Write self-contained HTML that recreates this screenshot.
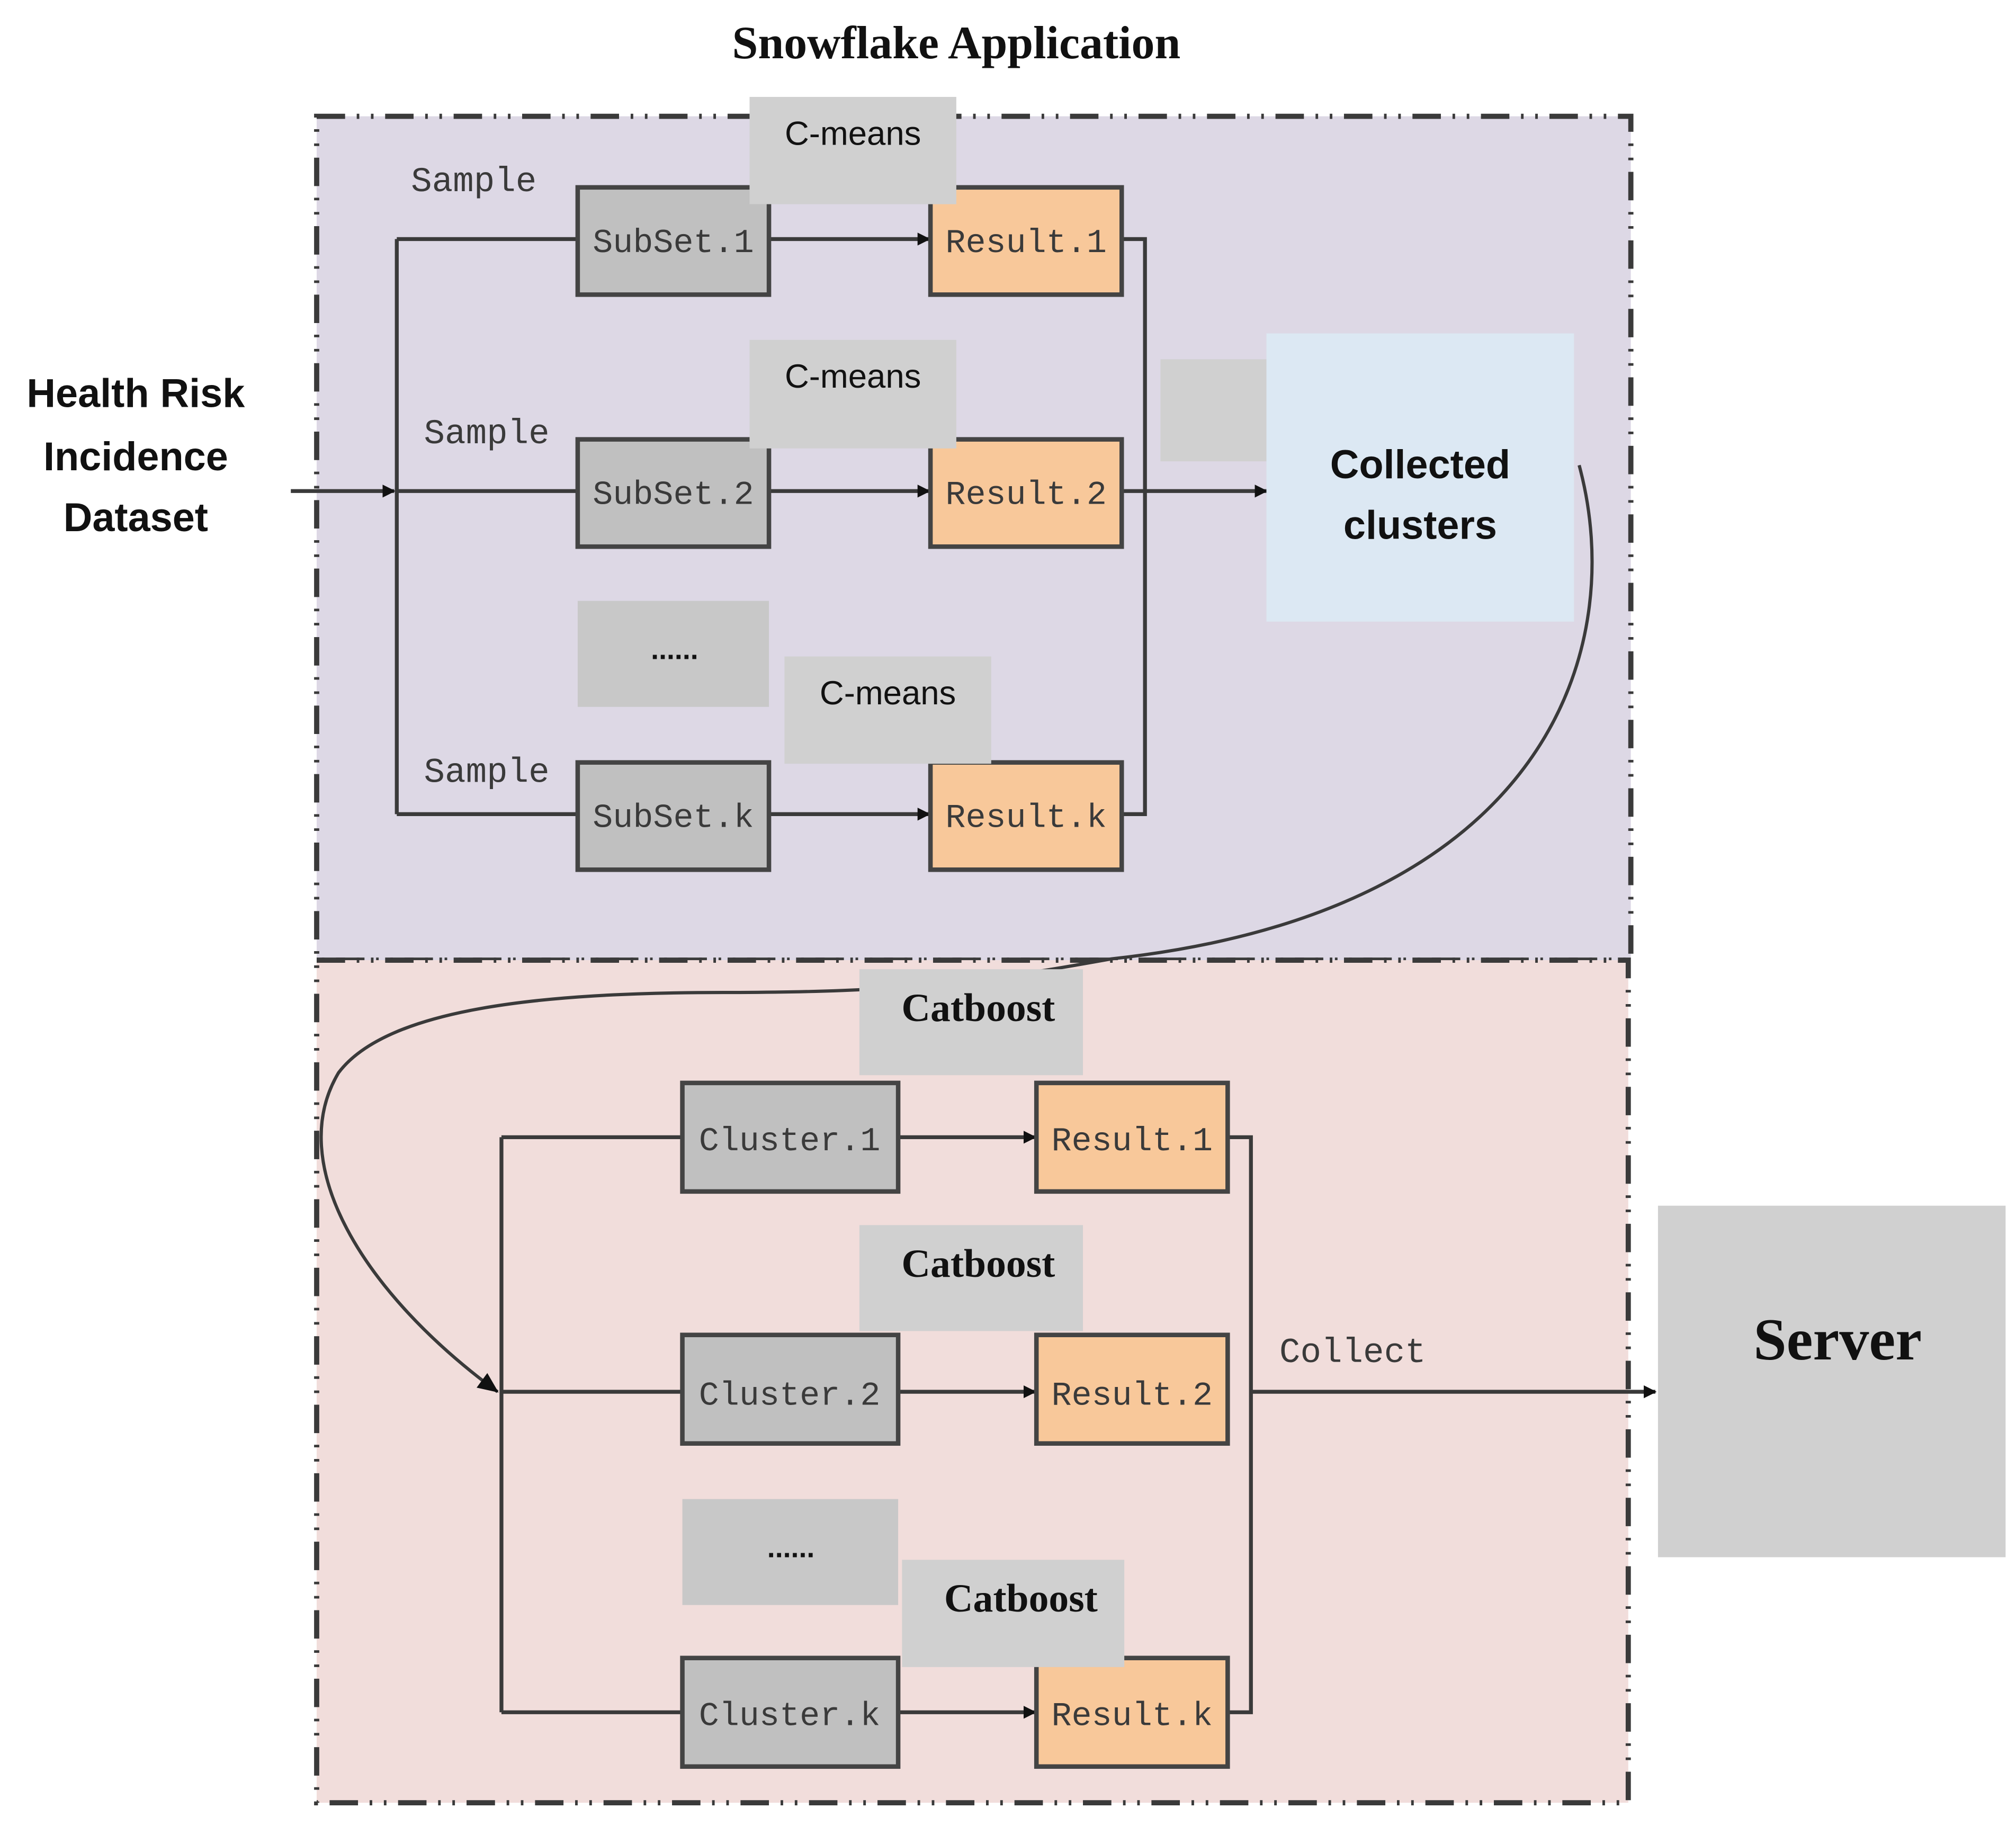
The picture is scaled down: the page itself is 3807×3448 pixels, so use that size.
<!DOCTYPE html>
<html><head><meta charset="utf-8"><style>
html,body{margin:0;padding:0;background:#fff;}
svg{display:block;}
.mono{font-family:"Liberation Mono",monospace;fill:#3a3a3a;}
.serif{font-family:"Liberation Serif",serif;font-weight:bold;fill:#111;}
.sans{font-family:"Liberation Sans",sans-serif;font-weight:bold;fill:#111;}
</style></head><body>
<svg width="3807" height="3448" viewBox="0 0 1560 1413" xmlns="http://www.w3.org/2000/svg">
<defs>
<marker id="ar" markerWidth="10" markerHeight="10" refX="9" refY="5" orient="auto" markerUnits="userSpaceOnUse">
<path d="M0,0 L10,5 L0,10 z" fill="#111"/></marker>
<marker id="ar2" markerWidth="16" markerHeight="14" refX="15" refY="7" orient="auto" markerUnits="userSpaceOnUse">
<path d="M0,0 L16,7 L0,14 z" fill="#111"/></marker>
</defs>
<text x="740" y="45" text-anchor="middle" class="serif" font-size="36">Snowflake Application</text>
<rect x="245" y="90" width="1017" height="653" fill="#ddd8e5" stroke="#3a3a3a" stroke-width="4" stroke-dasharray="22,9,2,9,2,9"/>
<rect x="245" y="743" width="1015" height="652" fill="#f1dddb" stroke="#3a3a3a" stroke-width="4" stroke-dasharray="22,9,2,9,2,9"/>
<text x="105" y="315" text-anchor="middle" class="sans" font-size="31">Health Risk</text>
<text x="105" y="364" text-anchor="middle" class="sans" font-size="31">Incidence</text>
<text x="105" y="411" text-anchor="middle" class="sans" font-size="31">Dataset</text>
<g stroke="#3a3a3a" stroke-width="3" fill="none">
<line x1="225" y1="380" x2="305" y2="380" marker-end="url(#ar)"/>
<line x1="307" y1="185" x2="307" y2="630"/>
<line x1="307" y1="185" x2="447" y2="185"/>
<line x1="307" y1="380" x2="447" y2="380"/>
<line x1="307" y1="630" x2="447" y2="630"/>
<line x1="595" y1="185" x2="719" y2="185" marker-end="url(#ar)"/>
<line x1="595" y1="380" x2="719" y2="380" marker-end="url(#ar)"/>
<line x1="595" y1="630" x2="719" y2="630" marker-end="url(#ar)"/>
<polyline points="868,185 886,185 886,630 868,630"/>
<line x1="868" y1="380" x2="980" y2="380" marker-end="url(#ar)"/>
<line x1="388" y1="880" x2="388" y2="1325"/>
<line x1="388" y1="880" x2="528" y2="880"/>
<line x1="388" y1="1077" x2="528" y2="1077"/>
<line x1="388" y1="1325" x2="528" y2="1325"/>
<line x1="695" y1="880" x2="801" y2="880" marker-end="url(#ar)"/>
<line x1="695" y1="1077" x2="801" y2="1077" marker-end="url(#ar)"/>
<line x1="695" y1="1325" x2="801" y2="1325" marker-end="url(#ar)"/>
<polyline points="950,880 968,880 968,1325 950,1325"/>
<line x1="968" y1="1077" x2="1281" y2="1077" marker-end="url(#ar)"/>
<path d="M1222,360 C1260,500 1200,705 860,742 C760,760 700,768 560,768 C420,768 300,780 262,830 C220,900 280,1000 385,1077" stroke-width="2.5" marker-end="url(#ar2)"/>
</g>
<g stroke="#444" stroke-width="3.5">
<rect x="447" y="145" width="148" height="83" fill="#c0c0c0"/>
<rect x="447" y="340" width="148" height="83" fill="#c0c0c0"/>
<rect x="447" y="590" width="148" height="83" fill="#c0c0c0"/>
<rect x="720" y="145" width="148" height="83" fill="#f8c89a"/>
<rect x="720" y="340" width="148" height="83" fill="#f8c89a"/>
<rect x="720" y="590" width="148" height="83" fill="#f8c89a"/>
<rect x="528" y="838" width="167" height="84" fill="#c0c0c0"/>
<rect x="528" y="1033" width="167" height="84" fill="#c0c0c0"/>
<rect x="528" y="1283" width="167" height="84" fill="#c0c0c0"/>
<rect x="802" y="838" width="148" height="84" fill="#f8c89a"/>
<rect x="802" y="1033" width="148" height="84" fill="#f8c89a"/>
<rect x="802" y="1283" width="148" height="84" fill="#f8c89a"/>
</g>
<g class="mono" font-size="26" text-anchor="middle">
<text x="521" y="195">SubSet.1</text><text x="521" y="390">SubSet.2</text><text x="521" y="640">SubSet.k</text>
<text x="794" y="195">Result.1</text><text x="794" y="390">Result.2</text><text x="794" y="640">Result.k</text>
<text x="611" y="890">Cluster.1</text><text x="611" y="1087">Cluster.2</text><text x="611" y="1335">Cluster.k</text>
<text x="876" y="890">Result.1</text><text x="876" y="1087">Result.2</text><text x="876" y="1335">Result.k</text>
</g>
<g class="mono" font-size="27" fill="#555">
<text x="318" y="148">Sample</text><text x="328" y="343">Sample</text><text x="328" y="605">Sample</text>
<text x="990" y="1054">Collect</text>
</g>
<g fill="#d0d0d0">
<rect x="580" y="75" width="160" height="83"/>
<rect x="580" y="263" width="160" height="84"/>
<rect x="607" y="508" width="160" height="83"/>
<rect x="898" y="278" width="82" height="79"/>
<rect x="665" y="750" width="173" height="82"/>
<rect x="665" y="948" width="173" height="82"/>
<rect x="698" y="1207" width="172" height="83"/>
<rect x="1283" y="933" width="269" height="272"/>
</g>
<rect x="447" y="465" width="148" height="82" fill="#c8c8c8"/>
<rect x="528" y="1160" width="167" height="82" fill="#c8c8c8"/>
<rect x="980" y="258" width="238" height="223" fill="#dce8f3"/>
<g font-family="Liberation Sans, sans-serif" font-size="26" text-anchor="middle" fill="#111">
<text x="660" y="112">C-means</text>
<text x="660" y="300">C-means</text>
<text x="687" y="545">C-means</text>
</g>
<text x="522" y="510" text-anchor="middle" class="sans" font-size="22">......</text>
<text x="612" y="1205" text-anchor="middle" class="sans" font-size="22">......</text>
<text x="1099" y="370" text-anchor="middle" class="sans" font-size="31">Collected</text>
<text x="1099" y="417" text-anchor="middle" class="sans" font-size="31">clusters</text>
<g class="serif" font-size="31" text-anchor="middle">
<text x="757" y="790">Catboost</text>
<text x="757" y="988">Catboost</text>
<text x="790" y="1247">Catboost</text>
</g>
<text x="1422" y="1052" text-anchor="middle" class="serif" font-size="46">Server</text>
</svg>
</body></html>
